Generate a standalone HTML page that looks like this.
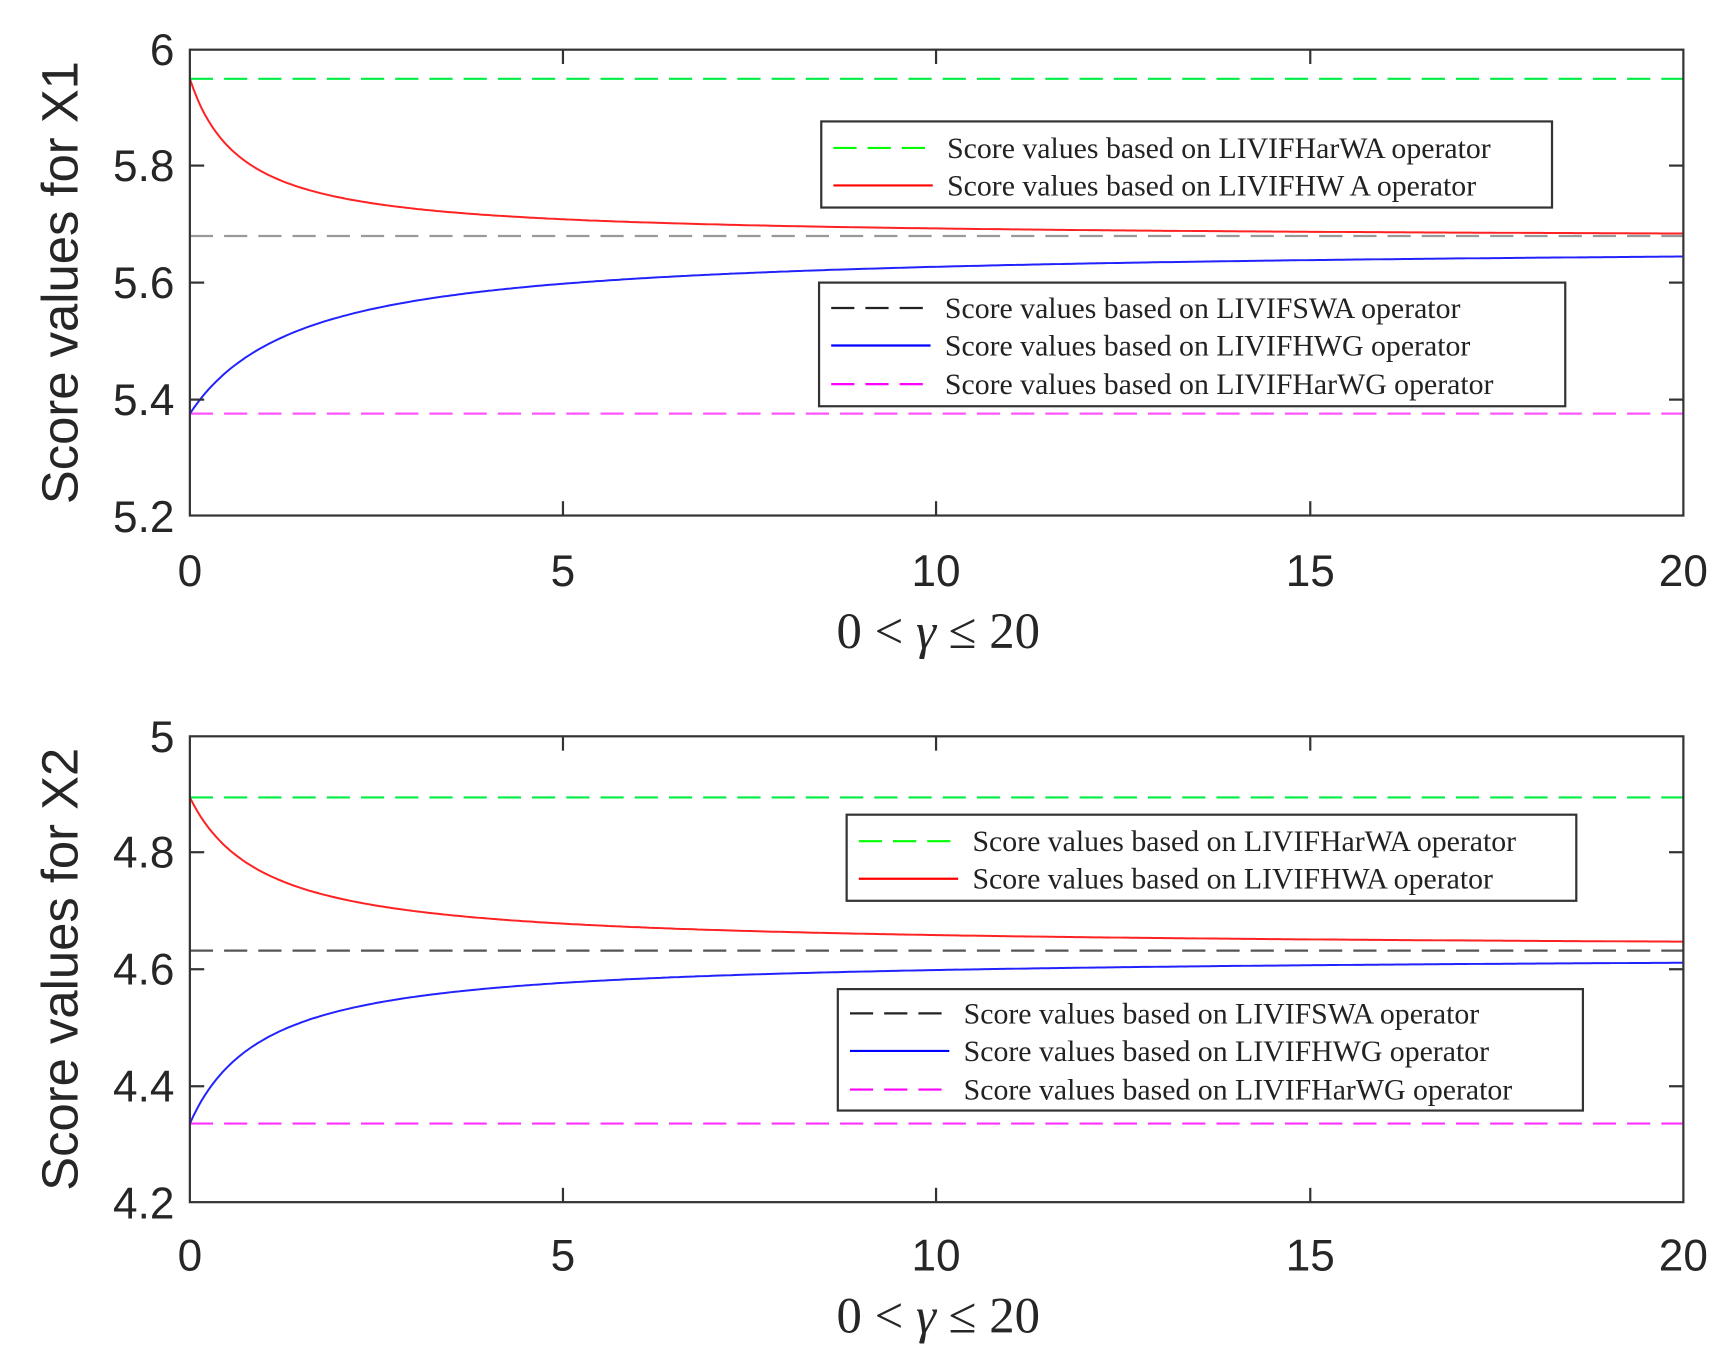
<!DOCTYPE html>
<html><head><meta charset="utf-8"><style>
html,body{margin:0;padding:0;background:#fff;}
svg{display:block;}
.t{font-family:"Liberation Sans",Arial,sans-serif;font-size:40px;fill:#262626;}
.l{font-family:"Liberation Serif","Times New Roman",serif;font-size:27px;fill:#222;}
.x{font-family:"Liberation Serif","Times New Roman",serif;font-size:46px;fill:#262626;}
</style></head><body>
<svg id="s" width="1722" height="1364" viewBox="0 0 1560 1235.6" preserveAspectRatio="none" xmlns="http://www.w3.org/2000/svg">
<rect width="1560" height="1236" fill="#fff"/>
<g id="p1"></g><g id="p2"></g>
<rect x="172" y="45" width="1353" height="422" fill="none" stroke="#333" stroke-width="2"/>
<g stroke="#333" stroke-width="2">
<line x1="510" y1="45" x2="510" y2="58"/><line x1="848" y1="45" x2="848" y2="58"/><line x1="1187" y1="45" x2="1187" y2="58"/>
<line x1="510" y1="467" x2="510" y2="454"/><line x1="848" y1="467" x2="848" y2="454"/><line x1="1187" y1="467" x2="1187" y2="454"/>
<line x1="172" y1="150" x2="185" y2="150"/><line x1="172" y1="256" x2="185" y2="256"/><line x1="172" y1="362" x2="185" y2="362"/>
<line x1="1525" y1="150" x2="1512" y2="150"/><line x1="1525" y1="256" x2="1512" y2="256"/><line x1="1525" y1="362" x2="1512" y2="362"/>
</g>
<g class="t" text-anchor="end"><text x="158" y="59">6</text><text x="158" y="164">5.8</text><text x="158" y="270">5.6</text><text x="158" y="376">5.4</text><text x="158" y="482">5.2</text></g>
<g class="t" text-anchor="middle"><text x="172" y="531">0</text><text x="510" y="531">5</text><text x="848" y="531">10</text><text x="1187" y="531">15</text><text x="1525" y="531">20</text></g>
<text class="t" transform="translate(70,256) rotate(-90)" text-anchor="middle" style="font-size:46px">Score values for X1</text>
<text class="x" x="850" y="587" text-anchor="middle">0 &lt; <tspan font-style="italic">γ</tspan> ≤ 20</text>
<rect x="172" y="667" width="1353" height="422" fill="none" stroke="#333" stroke-width="2"/>
<g stroke="#333" stroke-width="2">
<line x1="510" y1="667" x2="510" y2="680"/><line x1="848" y1="667" x2="848" y2="680"/><line x1="1187" y1="667" x2="1187" y2="680"/>
<line x1="510" y1="1089" x2="510" y2="1076"/><line x1="848" y1="1089" x2="848" y2="1076"/><line x1="1187" y1="1089" x2="1187" y2="1076"/>
<line x1="172" y1="772" x2="185" y2="772"/><line x1="172" y1="878" x2="185" y2="878"/><line x1="172" y1="984" x2="185" y2="984"/>
<line x1="1525" y1="772" x2="1512" y2="772"/><line x1="1525" y1="878" x2="1512" y2="878"/><line x1="1525" y1="984" x2="1512" y2="984"/>
</g>
<g class="t" text-anchor="end"><text x="158" y="681">5</text><text x="158" y="786">4.8</text><text x="158" y="892">4.6</text><text x="158" y="998">4.4</text><text x="158" y="1104">4.2</text></g>
<g class="t" text-anchor="middle"><text x="172" y="1151">0</text><text x="510" y="1151">5</text><text x="848" y="1151">10</text><text x="1187" y="1151">15</text><text x="1525" y="1151">20</text></g>
<text class="t" transform="translate(70,878) rotate(-90)" text-anchor="middle" style="font-size:46px">Score values for X2</text>
<text class="x" x="850" y="1207" text-anchor="middle">0 &lt; <tspan font-style="italic">γ</tspan> ≤ 20</text>
<rect x="744" y="110" width="662" height="78" fill="#fff" stroke="#333" stroke-width="2"/>
<line x1="755" y1="134" x2="845" y2="134" stroke="#0f0" stroke-width="2" stroke-dasharray="21,10"/>
<line x1="755" y1="168" x2="845" y2="168" stroke="#f00" stroke-width="2"/>
<text class="l" x="858" y="143">Score values based on LIVIFHarWA operator</text>
<text class="l" x="858" y="177">Score values based on LIVIFHW A operator</text>
<rect x="742" y="256" width="676" height="112" fill="#fff" stroke="#333" stroke-width="2"/>
<line x1="753" y1="279" x2="843" y2="279" stroke="#222" stroke-width="2" stroke-dasharray="21,10"/>
<line x1="753" y1="313" x2="843" y2="313" stroke="#00f" stroke-width="2"/>
<line x1="753" y1="348" x2="843" y2="348" stroke="#f0f" stroke-width="2" stroke-dasharray="21,10"/>
<text class="l" x="856" y="288">Score values based on LIVIFSWA operator</text>
<text class="l" x="856" y="322">Score values based on  LIVIFHWG operator</text>
<text class="l" x="856" y="357">Score values  based on  LIVIFHarWG operator</text>
<rect x="767" y="738" width="661" height="78" fill="#fff" stroke="#333" stroke-width="2"/>
<line x1="778" y1="762" x2="868" y2="762" stroke="#0f0" stroke-width="2" stroke-dasharray="21,10"/>
<line x1="778" y1="796" x2="868" y2="796" stroke="#f00" stroke-width="2"/>
<text class="l" x="881" y="771">Score values based on LIVIFHarWA operator</text>
<text class="l" x="881" y="805">Score values based on LIVIFHWA operator</text>
<rect x="759" y="896" width="675" height="110" fill="#fff" stroke="#333" stroke-width="2"/>
<line x1="770" y1="918" x2="860" y2="918" stroke="#222" stroke-width="2" stroke-dasharray="21,10"/>
<line x1="770" y1="952" x2="860" y2="952" stroke="#00f" stroke-width="2"/>
<line x1="770" y1="987" x2="860" y2="987" stroke="#f0f" stroke-width="2" stroke-dasharray="21,10"/>
<text class="l" x="873" y="927">Score values based on LIVIFSWA operator</text>
<text class="l" x="873" y="961">Score values based on  LIVIFHWG operator</text>
<text class="l" x="873" y="996">Score values  based on  LIVIFHarWG operator</text>
</svg>
<script>
(function(){
var NS="http://www.w3.org/2000/svg";
function ax(g,top,ymax){
 var X=function(v){return 172+v*1353/20;};
 var Y=function(v){return top+(ymax-v)*422/0.8;};
 return {X:X,Y:Y,g:g};
}
function hline(a,v,c){var l=document.createElementNS(NS,"line");l.setAttribute("x1",172);l.setAttribute("x2",1525);l.setAttribute("y1",a.Y(v));l.setAttribute("y2",a.Y(v));l.setAttribute("stroke",c);l.setAttribute("stroke-width",2);l.setAttribute("stroke-dasharray","21,10");a.g.appendChild(l);}
function curve(a,L,s,d,c){var p="";for(var i=0;i<=400;i++){var x=i*20/400;var y=L+(s-L)*d/(x+d);p+=(i?"L":"M")+a.X(x).toFixed(1)+" "+a.Y(y).toFixed(1);}
 var e=document.createElementNS(NS,"path");e.setAttribute("d",p);e.setAttribute("fill","none");e.setAttribute("stroke",c);e.setAttribute("stroke-width",1.8);a.g.appendChild(e);}
var a=ax(document.getElementById("p1"),45,6);
hline(a,5.95,"#00ee44");hline(a,5.68,"#999");hline(a,5.375,"#ff55ff");
curve(a,5.675,5.95,0.7,"#f22");curve(a,5.665,5.375,1.5,"#22f");
var b=ax(document.getElementById("p2"),667,5);
hline(b,4.895,"#00ee44");hline(b,4.632,"#555");hline(b,4.335,"#ff33ff");
curve(b,4.635,4.895,1.0,"#f22");curve(b,4.625,4.335,1.0,"#22f");
})();
</script>
</body></html>
